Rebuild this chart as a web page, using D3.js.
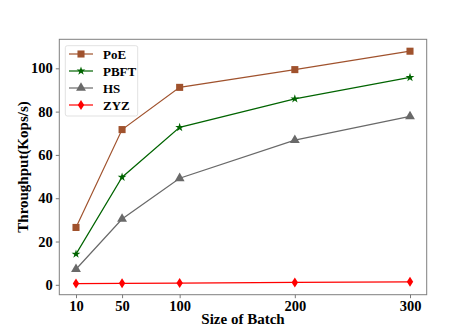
<!DOCTYPE html>
<html><head><meta charset="utf-8">
<script src="https://cdn.jsdelivr.net/npm/d3@7"></script>
<style>body{margin:0;background:#fff}svg{display:block}
svg text{font-family:"Liberation Serif","Times New Roman",Times,serif;font-weight:bold}</style>
</head><body>
<svg id="c" width="474" height="331"></svg>
<script>
const batchSizes = [10, 50, 100, 200, 300];
const poe  = [26.5, 71.7, 91.2, 99.4, 107.9];
const pbft = [14.2, 49.7, 72.7, 85.9, 95.8];
const hs   = [7.2, 30.4, 49.2, 66.8, 77.8];
const zyz  = [0.6, 0.7, 0.8, 1.1, 1.4];
const seriesNames = ["PoE", "PBFT", "HS", "ZYZ"];
const yTicks = [0, 20, 40, 60, 80, 100];

const series = [
  {name: seriesNames[0], values: poe,  color: "#a0522d", sym: d3.symbolSquare,  size: 50},
  {name: seriesNames[1], values: pbft, color: "#006400", sym: d3.symbolStar,    size: 24},
  {name: seriesNames[2], values: hs,   color: "#696969", sym: d3.symbolTriangle,size: 42},
  {name: seriesNames[3], values: zyz,  color: "#ff0000", sym: "diamond",        size: 0}
];

const svg = d3.select("#c");
const L = 59.3, R = 426.7, T = 39.3, B = 294.7;
const x = d3.scaleLinear().domain([-4.5, 314.5]).range([L, R]);
const y = d3.scaleLinear().domain([-4.56, 113.4]).range([B, T]);

// axes
const xa = svg.append("g").attr("transform", `translate(0,${B})`)
  .call(d3.axisBottom(x).tickValues(batchSizes).tickSize(3.5).tickPadding(3));
const ya = svg.append("g").attr("transform", `translate(${L},0)`)
  .call(d3.axisLeft(y).tickValues(yTicks).tickSize(3.5).tickPadding(3));
[xa, ya].forEach(g => {
  g.attr("font-family", null).attr("font-size", null);
  g.select(".domain").remove();
  g.selectAll(".tick line").attr("stroke", "#555").attr("stroke-width", 0.8);
  g.selectAll(".tick text").attr("fill", "#000").style("font-size", "14.5px");
});

// frame
svg.append("rect").attr("x", L).attr("y", T).attr("width", R - L).attr("height", B - T)
  .attr("fill", "none").attr("stroke", "#7f7f7f").attr("stroke-width", 1);

// labels
svg.append("text").attr("x", (L + R) / 2).attr("y", 324).attr("text-anchor", "middle")
  .style("font-size", "15px").text("Size of Batch");
svg.append("text").attr("transform", `translate(28,${(T + B) / 2}) rotate(-90)`)
  .attr("text-anchor", "middle").style("font-size", "15px")
  .text("Throughput(Kops/s)");

function drawMarker(g, s, cx, cy) {
  if (s.sym === "diamond") {
    g.append("path").attr("d", `M${cx},${cy-5}L${cx+3.2},${cy}L${cx},${cy+5}L${cx-3.2},${cy}Z`)
      .attr("fill", s.color);
  } else {
    g.append("path").attr("d", d3.symbol().type(s.sym).size(s.size)())
      .attr("transform", `translate(${cx},${cy})`).attr("fill", s.color);
  }
}

const line = d3.line().x((d, i) => x(batchSizes[i])).y(d => y(d));
series.forEach(s => {
  const g = svg.append("g");
  g.append("path").attr("d", line(s.values)).attr("fill", "none")
    .attr("stroke", s.color).attr("stroke-width", 1.2);
  s.values.forEach((v, i) => drawMarker(g, s, x(batchSizes[i]), y(v)));
});

// legend
const lg = svg.append("g");
lg.append("rect").attr("x", 65.3).attr("y", 45.7).attr("width", 72.4).attr("height", 70.3)
  .attr("rx", 2).attr("fill", "#fff").attr("stroke", "#d9d9d9").attr("stroke-width", 0.8);
series.forEach((s, i) => {
  const yy = 54 + i * 17;
  lg.append("line").attr("x1", 69).attr("x2", 93).attr("y1", yy).attr("y2", yy)
    .attr("stroke", s.color).attr("stroke-width", 1.2);
  drawMarker(lg, s, 81, yy);
  lg.append("text").attr("x", 103).attr("y", yy + 4.5).style("font-size", "13px")
    .text(s.name);
});
</script>
</body></html>
